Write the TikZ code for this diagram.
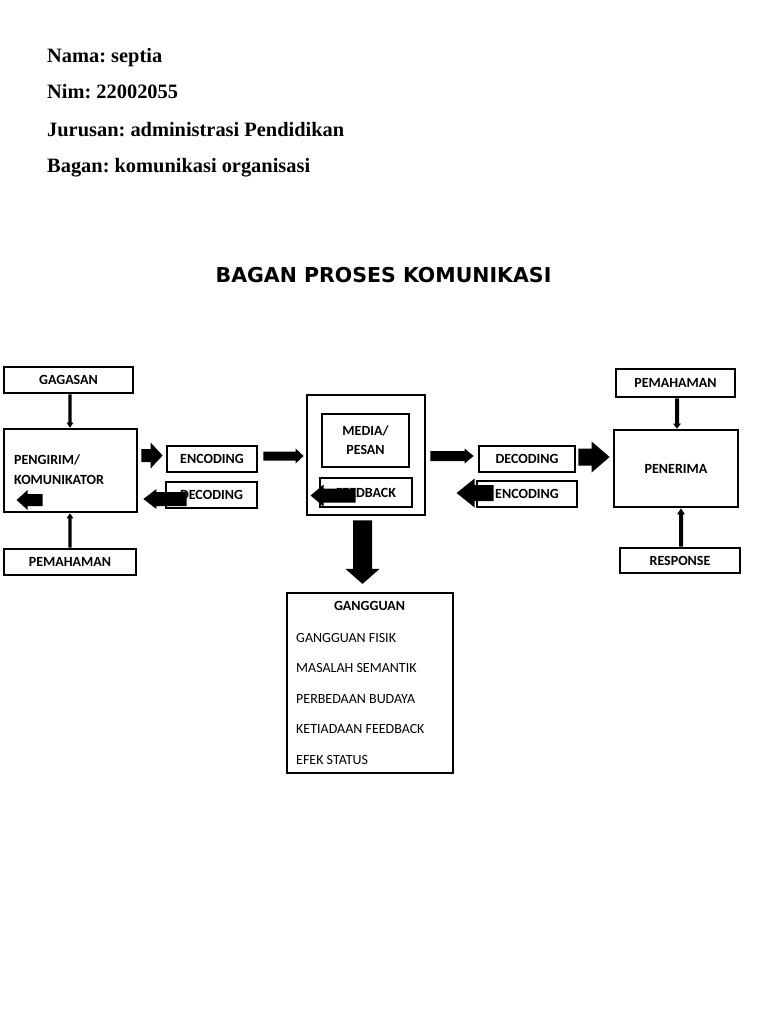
\documentclass[tikz,border=0pt]{standalone}
\usepackage{fontspec}
\setmainfont{Liberation Serif}
\newfontfamily\carlito{Carlito}
\newfontfamily\dejavu{DejaVu Sans}
\usetikzlibrary{calc}
\frenchspacing
% horizontal block arrow: tail, tip, body half height, head half height, head length
\newcommand{\harr}[5]{\fill let \p1=(#1), \p2=(#2), \n1={ifthenelse(\x2>\x1,-1,1)*(#5)} in
  (\x1,{\y1+#3}) -- ({\x2+(\n1)},{\y1+#3}) -- ({\x2+(\n1)},{\y1+#4}) -- (\x2,\y1)
  -- ({\x2+(\n1)},{\y1-#4}) -- ({\x2+(\n1)},{\y1-#3}) -- (\x1,{\y1-#3}) -- cycle;}
% vertical block arrow: tail, tip, body half width, head half width, head length
\newcommand{\varr}[5]{\fill let \p1=(#1), \p2=(#2), \n1={ifthenelse(\y2>\y1,-1,1)*(#5)} in
  ({\x1+#3},\y1) -- ({\x1+#3},{\y2+(\n1)}) -- ({\x1+#4},{\y2+(\n1)}) -- (\x1,\y2)
  -- ({\x1-#4},{\y2+(\n1)}) -- ({\x1-#3},{\y2+(\n1)}) -- ({\x1-#3},\y1) -- cycle;}
\begin{document}
\begin{tikzpicture}[x=1pt,y=-1pt,
  box/.style={draw, line width=2.8pt, fill=white, inner sep=0pt, align=center,
    font=\carlito\bfseries\fontsize{14}{19}\selectfont},
  plain/.style={inner sep=0pt, font=\carlito\bfseries\fontsize{14}{20}\selectfont},
  item/.style={inner sep=0pt, anchor=west, font=\carlito\fontsize{14}{17}\selectfont},
  hdr/.style={inner sep=0pt, anchor=base west, font=\bfseries\fontsize{20.4}{24}\selectfont}]
\useasboundingbox[fill=white] (0,0) rectangle (768,1024);

% header
\node[hdr] (nama) at (47,63) {Nama: septia};
\node[hdr] (nim) at (47,98.5) {Nim: 22002055};
\node[hdr] (jur) at (47,136.5) {Jurusan: administrasi Pendidikan};
\node[hdr] (bag) at (47,173) {Bagan: komunikasi organisasi};
\node[inner sep=0pt, anchor=base, font=\dejavu\bfseries\fontsize{20.5}{24}\selectfont] (title) at (383.5,282.3) {BAGAN PROSES KOMUNIKASI};

% left side
\node[box, minimum width=129, minimum height=26] (gag) at (68.5,380) {GAGASAN};
\node[box, minimum width=133, minimum height=83] (peng) at (70.5,470.5) {};
\node[plain, anchor=west, align=left] (pengtxt) at (14,470) {PENGIRIM/\\KOMUNIKATOR};
\node[box, minimum width=132, minimum height=26] (pem1) at (70,562) {PEMAHAMAN};
\node[box, minimum width=90, minimum height=26] (enc1) at (212,459) {ENCODING};
\node[box, minimum width=91, minimum height=26] (dec1) at (211.5,495) {DECODING};

% middle
\node[box, minimum width=118, minimum height=120] (medout) at (366,455) {};
\node[box, minimum width=87, minimum height=53] (mp) at (365.5,440.5) {MEDIA/\\PESAN};
\node[box, minimum width=92, minimum height=29] (fb) at (366,492.5) {FEEDBACK};

% right side
\node[box, minimum width=96, minimum height=26] (dec2) at (527,459) {DECODING};
\node[box, minimum width=100, minimum height=26] (enc2) at (527,494) {ENCODING};
\node[box, minimum width=119, minimum height=28] (pem2) at (675.5,383) {PEMAHAMAN};
\node[box, minimum width=124, minimum height=77] (pen) at (676,468.5) {PENERIMA};
\node[box, minimum width=120, minimum height=25] (resp) at (680,560.5) {RESPONSE};

% gangguan
\node[box, line width=2.2pt, minimum width=166, minimum height=180] (gang) at (370,683) {};
\node[plain] (gtitle) at (369.5,606) {GANGGUAN};
\node[item] (g1) at (296,638) {GANGGUAN FISIK};
\node[item] (g2) at (296,668) {MASALAH SEMANTIK};
\node[item] (g3) at (296,699) {PERBEDAAN BUDAYA};
\node[item] (g4) at (296,729) {KETIADAAN FEEDBACK};
\node[item] (g5) at (296,760) {EFEK STATUS};

% connector end points
\coordinate (a1s) at ($(gag.south)+(1.5,0)$);
\coordinate (a1e) at (a1s |- peng.north);
\coordinate (a2s) at (pem1.north);
\coordinate (a2e) at (a2s |- peng.south);
\coordinate (a3s) at ($(pem2.south)+(1.5,0)$);
\coordinate (a3e) at (a3s |- pen.north);
\coordinate (a4s) at ($(resp.north)+(1,0)$);
\coordinate (a4e) at (a4s |- pen.south);
\coordinate (a5s) at ($(peng.east |- enc1.west)+(3,-3.5)$);
\coordinate (a5e) at ($(enc1.west)+(-3,-3.5)$);
\coordinate (a6s) at ($(enc1.east)+(5,-3)$);
\coordinate (a6e) at ($(medout.west |- enc1.east)+(-2,-3)$);
\coordinate (a7s) at ($(medout.east |- dec2.west)+(4,-3)$);
\coordinate (a7e) at ($(dec2.west)+(-4,-3)$);
\coordinate (a8s) at ($(dec2.east)+(2,-2)$);
\coordinate (a8e) at ($(pen.west |- dec2.east)+(-3,-2)$);
\coordinate (a9s) at ($(dec1.west)+(22,4)$);
\coordinate (a9e) at ($(peng.east |- dec1.west)+(5,4)$);
\coordinate (a10s) at ($(peng.west)+(40,29.5)$);
\coordinate (a10e) at ($(peng.west)+(14,29.5)$);
\coordinate (a11s) at ($(fb.west)+(37,3)$);
\coordinate (a11e) at ($(fb.west)+(-8,3)$);
\coordinate (a12s) at ($(enc2.west)+(18,-1)$);
\coordinate (a12e) at ($(enc2.west)+(-19,-1)$);
\coordinate (a13s) at ($(medout.south)+(-3.5,4)$);
\coordinate (a13e) at ($(medout.south |- gang.north)+(-3.5,-8)$);

% connectors
\varr{a1s}{a1e}{1.6pt}{3.5pt}{5pt}
\varr{a2s}{a2e}{1.6pt}{3.5pt}{5pt}
\varr{a3s}{a3e}{2pt}{4pt}{5pt}
\varr{a4s}{a4e}{2pt}{4pt}{6pt}
\harr{a5s}{a5e}{6.5pt}{13pt}{12pt}
\harr{a6s}{a6e}{4.5pt}{7.5pt}{8pt}
\harr{a7s}{a7e}{5pt}{7.5pt}{9pt}
\harr{a8s}{a8e}{8.5pt}{15.5pt}{18pt}
\harr{a9s}{a9e}{7pt}{10pt}{13pt}
\harr{a10s}{a10e}{6pt}{10pt}{11pt}
\harr{a11s}{a11e}{7pt}{11pt}{13pt}
\harr{a12s}{a12e}{8pt}{14.5pt}{18pt}
\varr{a13s}{a13e}{9.5pt}{17pt}{15pt}
\end{tikzpicture}
\end{document}
